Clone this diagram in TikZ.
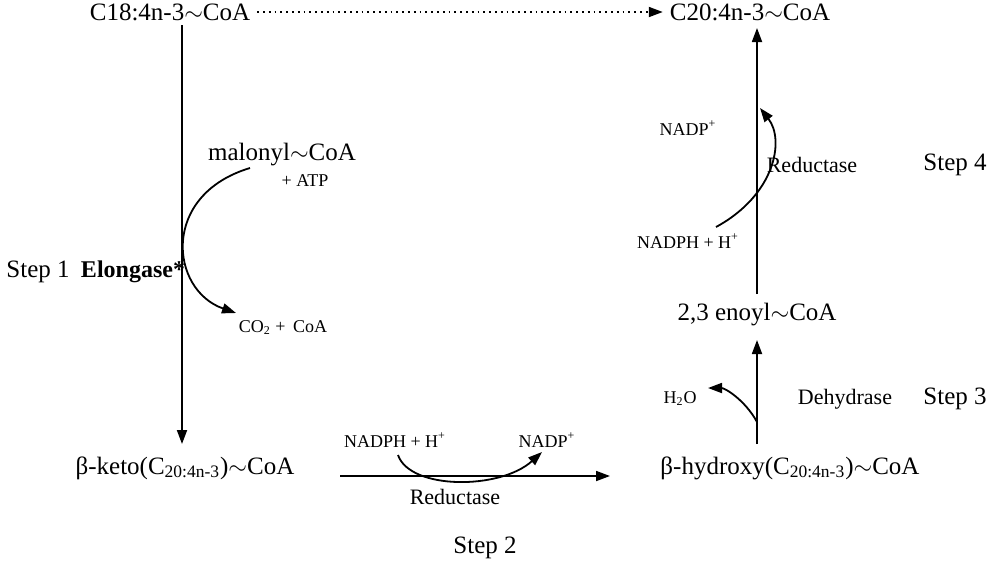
\documentclass[tikz,border=0pt]{standalone}
\usepackage{fontspec}
\setmainfont{Liberation Serif}
\usetikzlibrary{arrows.meta}
\begin{document}
\begin{tikzpicture}[x=0.5pt,y=-0.5pt,
 big/.style={font=\fontsize{12.5}{14}\selectfont},
 mid/.style={font=\fontsize{11}{13}\selectfont},
 sm/.style={font=\fontsize{9}{11}\selectfont},
 arr/.style={-{Triangle[length=7pt,width=5pt]},line width=0.9pt}]
\useasboundingbox (0,0) rectangle (1000,569);
\node[big] (c18) at (170,12) {C18:4n-3$\sim$CoA};
\node[big] (c20) at (750,12) {C20:4n-3$\sim$CoA};
\node[big] (keto) at (185,468) {β-keto(C\textsubscript{20:4n-3})$\sim$CoA};
\node[big] (hyd) at (790,468) {β-hydroxy(C\textsubscript{20:4n-3})$\sim$CoA};
\node[big] (enoyl) at (757,315) {2,3 enoyl$\sim$CoA};
\node[big] (mal) at (282,155) {malonyl$\sim$CoA};
\node[sm] (atp) at (305,181) {+ ATP};
\node[sm] (co2) at (283,328) {CO\textsubscript{2} +\, CoA};
\node[big] (s1) at (38,272) {Step 1};
\node[font=\fontsize{12}{14}\selectfont\bfseries] (elo) at (133,272) {Elongase*};
\node[sm] (nadph2) at (395,440) {NADPH + H\textsuperscript{+}};
\node[sm] (nadp2) at (547,440) {NADP\textsuperscript{+}};
\node[mid] (red2) at (455,497) {Reductase};
\node[big] (s2) at (485,548) {Step 2};
\node[sm] (h2o) at (680,399) {H\textsubscript{2}O};
\node[mid] (deh) at (845,399) {Dehydrase};
\node[big] (s3) at (955,399) {Step 3};
\node[sm] (nadp4) at (688,128) {NADP\textsuperscript{+}};
\node[sm] (nadph4) at (688,241) {NADPH + H\textsuperscript{+}};
\node[mid] (red4) at (812,165) {Reductase};
\node[big] (s4) at (955,165) {Step 4};
\draw[arr,dotted] (c18.east) -- (c20.west);
\coordinate (a1) at (182,25); \coordinate (a2) at (182,444);
\draw[arr] (a1) -- (a2);
\coordinate (k1) at (340,476); \coordinate (k2) at (610,476);
\draw[arr] (k1) -- (k2);
\coordinate (e1) at (757,444); \coordinate (e2) at (757,340);
\draw[arr] (e1) -- (e2);
\coordinate (f1) at (757,294); \coordinate (f2) at (757,28);
\draw[arr] (f1) -- (f2);
\coordinate (m1) at (250,168); \coordinate (m2) at (236,313);
\draw[arr] (m1) .. controls (160,195) and (170,290) .. (m2);
\coordinate (n1) at (398,455); \coordinate (n2) at (542,452);
\draw[arr] (n1) .. controls (410,490) and (500,490) .. (n2);
\coordinate (h1) at (757,422); \coordinate (h2) at (708,388);
\draw[arr] (h1) .. controls (745,400) and (725,388) .. (h2);
\coordinate (r1) at (716,227); \coordinate (r2) at (760,108);
\draw[arr] (r1) .. controls (775,195) and (785,140) .. (r2);
\end{tikzpicture}
\end{document}
